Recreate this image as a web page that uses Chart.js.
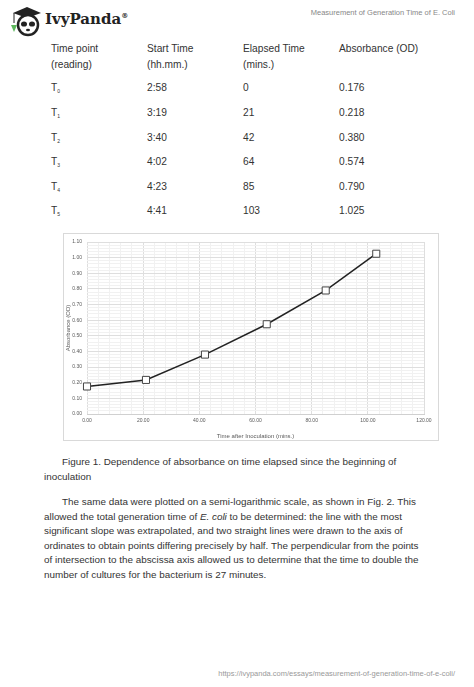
<!DOCTYPE html>
<html>
<head>
<meta charset="utf-8">
<script src="https://cdn.jsdelivr.net/npm/chart.js@4.4.1/dist/chart.umd.min.js"></script>
<style>
  body { margin: 0; background: #fff; font-family: "Liberation Sans", Arial, sans-serif; color: #333; }
  .page { position: relative; width: 474px; height: 687px; overflow: hidden; }
  .abs { position: absolute; white-space: nowrap; }
  .brand { left: 45px; top: 10px; font-family: "DejaVu Serif", "Liberation Serif", serif; font-weight: bold; font-size: 15px; color: #222; }
  .brand sup { font-size: 7px; }
  .runhead { right: 19px; top: 8px; font-size: 7.5px; color: #888; }
  .cell { font-size: 10.2px; line-height: 14px; color: #333; }
  .cell sub { font-size: 5px; vertical-align: -2px; }
  .chartbox { position: absolute; left: 63px; top: 233px; width: 374px; height: 206px; border: 1px solid #d9d9d9; }
  .text { font-size: 9.9px; line-height: 14.6px; color: #333; }
  .foot { right: 19px; top: 669px; font-size: 7.5px; color: #999; }
</style>
</head>
<body>
<div class="page">
  <svg class="abs" style="left:9px;top:5px" width="34" height="32" viewBox="0 0 34 32">
    <polygon points="4,8 18,2 32,8 18,13" fill="#222"/>
    <circle cx="19" cy="20" r="10" fill="#fff" stroke="#222" stroke-width="2.5"/>
    <ellipse cx="15" cy="19" rx="3" ry="2.6" fill="#222"/>
    <ellipse cx="23" cy="19" rx="3" ry="2.6" fill="#222"/>
    <ellipse cx="19" cy="25" rx="2" ry="1.3" fill="#222"/>
    <line x1="5" y1="8" x2="5" y2="18" stroke="#222" stroke-width="1"/>
    <path d="M2,20 L5,27 L8,20 Z" fill="#5cb85c"/>
  </svg>
  <div class="abs brand">IvyPanda<sup>®</sup></div>
  <div class="abs runhead">Measurement of Generation Time of E. Coli</div>

  <div id="table"></div>

  <div class="chartbox"><canvas id="chart"></canvas></div>

  <div class="abs text" style="left:62px;top:455px">Figure 1. Dependence of absorbance on time elapsed since the beginning of</div>
  <div class="abs text" style="left:44px;top:470px">inoculation</div>

  <div class="abs text" style="left:44px;top:495px">
    <span style="padding-left:18px"></span>The same data were plotted on a semi-logarithmic scale, as shown in Fig. 2. This<br>
    allowed the total generation time of <i>E. coli</i> to be determined: the line with the most<br>
    significant slope was extrapolated, and two straight lines were drawn to the axis of<br>
    ordinates to obtain points differing precisely by half. The perpendicular from the points<br>
    of intersection to the abscissa axis allowed us to determine that the time to double the<br>
    number of cultures for the bacterium is 27 minutes.
  </div>

  <div class="abs foot">https://ivypanda.com/essays/measurement-of-generation-time-of-e-coli/</div>
</div>

<script>
const headerLines = [
  ['Time point', 'Start Time', 'Elapsed Time', 'Absorbance (OD)'],
  ['(reading)', '(hh.mm.)', '(mins.)', '']
];
const timePoints = ['0', '1', '2', '3', '4', '5'];
const startTimes = ['2:58', '3:19', '3:40', '4:02', '4:23', '4:41'];
const elapsedMinutes = [0, 21, 42, 64, 85, 103];
const absorbance = [0.176, 0.218, 0.380, 0.574, 0.790, 1.025];

// table, laid out by hand to follow the page
const colX = [51, 147, 243, 339];
const headerY = [42, 58];
const rowY = [81, 106, 131, 155, 180, 204];
const table = document.getElementById('table');
function addCell(x, y, html) {
  const d = document.createElement('div');
  d.className = 'abs cell';
  d.style.left = x + 'px';
  d.style.top = y + 'px';
  d.innerHTML = html;
  table.appendChild(d);
}
headerLines.forEach((line, li) => {
  line.forEach((txt, ci) => { if (txt) addCell(colX[ci], headerY[li], txt); });
});
timePoints.forEach((tp, i) => {
  addCell(colX[0], rowY[i], 'T<sub>' + tp + '</sub>');
  addCell(colX[1], rowY[i], startTimes[i]);
  addCell(colX[2], rowY[i], String(elapsedMinutes[i]));
  addCell(colX[3], rowY[i], absorbance[i].toFixed(3));
});

// chart
const isMultiple = (v, step) => Math.abs(Math.round(v / step) * step - v) < 1e-6;
const tickFont = { family: '"Liberation Sans", Arial, sans-serif', size: 5 };

new Chart(document.getElementById('chart').getContext('2d'), {
  type: 'line',
  data: {
    datasets: [{
      data: elapsedMinutes.map((x, i) => ({ x: x, y: absorbance[i] })),
      borderColor: '#222',
      borderWidth: 1.5,
      pointStyle: 'rect',
      pointRadius: 5,
      pointBackgroundColor: '#fff',
      pointBorderColor: '#444',
      pointBorderWidth: 1,
      tension: 0,
      clip: false
    }]
  },
  options: {
    responsive: true,
    maintainAspectRatio: false,
    animation: false,
    layout: { padding: { left: 1, top: 7, right: 14, bottom: 0 } },
    plugins: { legend: { display: false }, tooltip: { enabled: false } },
    scales: {
      x: {
        type: 'linear',
        min: 0,
        max: 120,
        afterFit: s => { s.height = 26; },
        ticks: {
          stepSize: 4,
          autoSkip: false,
          maxRotation: 0,
          maxTicksLimit: 100,
          color: '#595959',
          font: tickFont,
          padding: 4,
          callback: v => isMultiple(v, 20) ? v.toFixed(2) : ''
        },
        grid: {
          color: ctx => isMultiple(ctx.tick.value, 20) ? '#dedede' : '#f1f1f1',
          drawTicks: false
        },
        border: { color: '#d0d0d0' },
        title: { display: true, text: 'Time after Inoculation (mins.)', color: '#595959', font: { family: tickFont.family, size: 6 }, padding: { top: 3, bottom: 0 } }
      },
      y: {
        min: 0,
        max: 1.1,
        afterFit: s => { s.width = 22; },
        ticks: {
          stepSize: 0.02,
          autoSkip: false,
          maxTicksLimit: 100,
          color: '#595959',
          font: tickFont,
          padding: 5,
          callback: v => isMultiple(v, 0.1) ? v.toFixed(2) : ''
        },
        grid: {
          color: ctx => isMultiple(ctx.tick.value, 0.1) ? '#dedede' : '#f1f1f1',
          drawTicks: false
        },
        border: { display: false },
        title: { display: true, text: 'Absorbance (OD)', color: '#595959', font: { family: tickFont.family, size: 6 }, padding: { top: 0, bottom: 2 } }
      }
    }
  }
});
</script>
</body>
</html>
